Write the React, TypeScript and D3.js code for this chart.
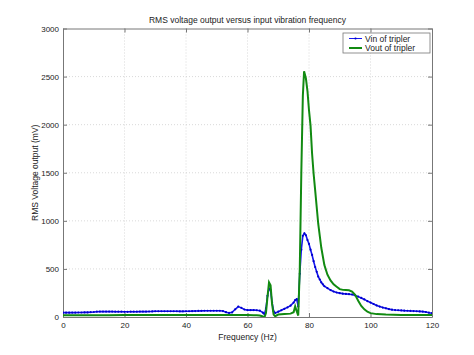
import React, { useEffect, useRef } from 'react'
import * as d3 from 'd3'

// input voltage (Vin of tripler), frequency in Hz and RMS mV
const vinFreq = [0, 1, 2, 3, 4, 5, 6, 7, 8, 9, 10, 11, 12, 13, 14, 15, 16, 17, 18, 19, 20,
  21, 22, 23, 24, 25, 26, 27, 28, 29, 30, 31, 32, 33, 34, 35, 36, 37, 38, 39, 40,
  41, 42, 43, 44, 45, 46, 47, 48, 49, 50, 51, 52, 53, 54, 55, 56, 57, 58, 59, 60,
  61, 62, 63, 64, 65, 65.5, 66, 66.5, 67, 67.5, 68, 68.5, 69, 70, 71, 72, 73, 74, 75, 75.5, 76, 76.5,
  77, 77.5, 78, 78.5, 79, 79.5, 80, 80.5, 81, 81.5, 82, 82.5, 83, 83.5, 84, 84.5, 85, 86, 87, 88, 89, 90,
  91, 92, 93, 94, 95, 96, 97, 98, 99, 100, 101, 102, 103, 104, 105, 106, 107, 108, 109, 110,
  111, 112, 113, 114, 115, 116, 117, 118, 119, 120]
const vinVals = [45, 45, 45, 46, 46, 47, 47, 48, 48, 50, 52, 55, 56, 56, 56, 56, 56, 55, 55, 55, 54,
  54, 55, 55, 55, 56, 56, 56, 57, 58, 60, 60, 60, 60, 60, 60, 60, 60, 59, 59, 60,
  60, 61, 62, 63, 64, 65, 65, 65, 65, 65, 65, 62, 50, 42, 48, 80, 108, 95, 78, 72,
  72, 72, 70, 66, 45, 30, 90, 220, 295, 280, 150, 60, 42, 55, 70, 85, 100, 118, 150, 175, 185, 110,
  450, 700, 845, 870, 850, 800, 760, 700, 645, 580, 520, 470, 420, 390, 360, 340, 320, 300, 280, 265, 255, 248,
  243, 240, 237, 234, 225, 212, 198, 183, 165, 150, 135, 120, 108, 98, 90, 82, 76, 72, 70, 68,
  66, 65, 63, 62, 60, 58, 56, 52, 45, 40]

// output voltage (Vout of tripler)
const voutFreq = [0, 5, 10, 15, 20, 25, 30, 35, 40, 45, 50, 55, 60, 62, 63, 64, 65, 65.5, 66, 66.5, 67,
  67.5, 68, 68.5, 69, 70, 72, 74, 75, 75.5, 76, 76.5, 77, 77.5, 78, 78.4, 79, 79.5, 80, 80.5, 81, 81.5, 82,
  83, 84, 85, 86, 87, 88, 89, 90, 91, 92, 93, 94, 95, 96, 97, 98, 99, 100, 102, 105, 110, 115, 120]
const voutVals = [18, 18, 18, 19, 20, 20, 21, 22, 22, 22, 22, 22, 20, 19, 18, 15, 5, -5, 40, 210, 360,
  330, 130, 25, 8, 25, 30, 35, 50, 110, 60, 15, 500, 1500, 2300, 2555, 2480, 2350, 2150, 1990, 1700, 1490, 1320,
  970, 720, 540, 440, 380, 340, 315, 290, 282, 280, 278, 265, 230, 170, 115, 80, 55, 40, 30, 25, 22, 20, 20]

const xTicks = [0, 20, 40, 60, 80, 100, 120]
const yTicks = [0, 500, 1000, 1500, 2000, 2500, 3000]
const seriesNames = ['Vin of tripler', 'Vout of tripler']

export default function App() {
  const ref = useRef<SVGSVGElement>(null)

  useEffect(() => {
    const svg = d3.select(ref.current)
    svg.selectAll('*').remove()

    const margin = { top: 28.5, right: 42, bottom: 38, left: 63 }
    const width = 474 - margin.left - margin.right
    const height = 355 - margin.top - margin.bottom
    const font = 'Liberation Sans, Arial, sans-serif'

    const x = d3.scaleLinear().domain([0, 120]).range([0, width])
    const y = d3.scaleLinear().domain([0, 3000]).range([height, 0])

    const g = svg.append('g').attr('transform', `translate(${margin.left},${margin.top})`)

    g.append('clipPath').attr('id', 'plotclip')
      .append('rect').attr('width', width).attr('height', height)

    // grid
    g.selectAll('line.gx').data(xTicks.slice(1, -1)).enter().append('line')
      .attr('x1', d => x(d)).attr('x2', d => x(d)).attr('y1', 0).attr('y2', height)
      .attr('stroke', '#c8c8c8').attr('stroke-width', 0.7).attr('stroke-dasharray', '1,2')
    g.selectAll('line.gy').data(yTicks.slice(1, -1)).enter().append('line')
      .attr('y1', d => y(d)).attr('y2', d => y(d)).attr('x1', 0).attr('x2', width)
      .attr('stroke', '#c8c8c8').attr('stroke-width', 0.7).attr('stroke-dasharray', '1,2')

    // axes (ticks inside, matlab style)
    const fmt = d3.format('d')
    const axX = g.append('g').attr('transform', `translate(0,${height})`)
      .call(d3.axisBottom(x).tickValues(xTicks).tickFormat(fmt).tickSizeInner(-4).tickSizeOuter(0).tickPadding(5))
    const axX2 = g.append('g')
      .call(d3.axisTop(x).tickValues(xTicks).tickSizeInner(-4).tickSizeOuter(0).tickFormat(() => ''))
    const axY = g.append('g')
      .call(d3.axisLeft(y).tickValues(yTicks).tickFormat(fmt).tickSizeInner(-4).tickSizeOuter(0).tickPadding(4))
    const axY2 = g.append('g').attr('transform', `translate(${width},0)`)
      .call(d3.axisRight(y).tickValues(yTicks).tickSizeInner(-4).tickSizeOuter(0).tickFormat(() => ''))
    ;[axX, axX2, axY, axY2].forEach(a => {
      a.selectAll('path').attr('stroke', '#777')
      a.selectAll('line').attr('stroke', '#777')
      a.selectAll('text').attr('font-family', font).attr('font-size', 8).attr('fill', '#222')
    })

    const plot = g.append('g').attr('clip-path', 'url(#plotclip)')

    const vin = vinFreq.map((f, i) => [f, vinVals[i]] as [number, number])
    const vout = voutFreq.map((f, i) => [f, voutVals[i]] as [number, number])
    const line = d3.line<[number, number]>().x(d => x(d[0])).y(d => y(d[1]))

    plot.append('path').datum(vin).attr('d', line)
      .attr('fill', 'none').attr('stroke', '#1515ee').attr('stroke-width', 1.6)
    plot.selectAll('circle.vin').data(vin).enter().append('circle')
      .attr('cx', d => x(d[0])).attr('cy', d => y(d[1])).attr('r', 1.1).attr('fill', '#0000cc')

    plot.append('path').datum(vout).attr('d', line)
      .attr('fill', 'none').attr('stroke', '#118a11').attr('stroke-width', 2)

    // titles
    svg.append('text').attr('x', margin.left + width / 2).attr('y', 23)
      .attr('text-anchor', 'middle').attr('font-family', font).attr('font-size', 8.5).attr('fill', '#222')
      .text('RMS voltage output versus input vibration frequency')
    svg.append('text').attr('x', margin.left + width / 2).attr('y', 340)
      .attr('text-anchor', 'middle').attr('font-family', font).attr('font-size', 8.5).attr('fill', '#222')
      .text('Frequency (Hz)')
    svg.append('text').attr('transform', `translate(38,${margin.top + height / 2}) rotate(-90)`)
      .attr('text-anchor', 'middle').attr('font-family', font).attr('font-size', 8.5).attr('fill', '#222')
      .text('RMS Voltage output (mV)')

    // legend
    const lg = svg.append('g').attr('transform', 'translate(343,33)')
    lg.append('rect').attr('width', 87).attr('height', 20).attr('fill', '#fff').attr('stroke', '#777').attr('stroke-width', 0.8)
    const colors = ['#1515ee', '#118a11']
    seriesNames.forEach((name, i) => {
      const yy = 5.5 + i * 9.5
      lg.append('line').attr('x1', 6).attr('x2', 19).attr('y1', yy).attr('y2', yy)
        .attr('stroke', colors[i]).attr('stroke-width', i === 0 ? 1 : 2)
      if (i === 0) lg.append('circle').attr('cx', 12.5).attr('cy', yy).attr('r', 1.1).attr('fill', '#0000cc')
      lg.append('text').attr('x', 22).attr('y', yy + 3).attr('font-family', font).attr('font-size', 8.5)
        .attr('fill', '#222').text(name)
    })
  }, [])

  return (
    <div style={{ margin: -8 }}>
      <svg ref={ref} width={474} height={355} style={{ display: 'block', background: '#fff' }} />
    </div>
  )
}
